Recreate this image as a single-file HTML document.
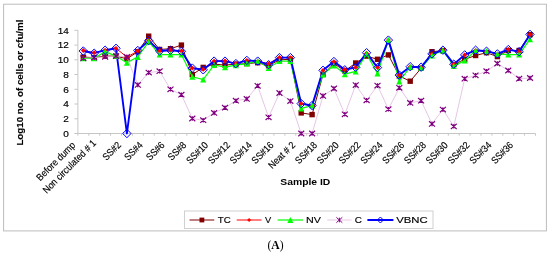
<!DOCTYPE html>
<html><head><meta charset="utf-8"><title>Chart A</title>
<style>html,body{margin:0;padding:0;background:#fff}body{width:550px;height:254px;overflow:hidden}svg{display:block}text{font-family:"Liberation Sans",Arial,sans-serif;fill:#000}.b{font-weight:bold}.ser{font-family:"Liberation Serif","Times New Roman",serif}</style></head><body>
<svg width="550" height="254" viewBox="0 0 550 254">
<rect x="0" y="0" width="550" height="254" fill="#fff"/>
<rect x="3.6" y="4.2" width="542.8" height="226.7" fill="#fff" stroke="#bcbcbc" stroke-width="1"/>
<g stroke="#c6c6c6" stroke-width="1" fill="none">
<line x1="77.9" y1="30.0" x2="77.9" y2="133.5"/>
<line x1="77.9" y1="133.5" x2="535.5" y2="133.5"/>
<line x1="74.4" y1="133.5" x2="77.9" y2="133.5"/>
<line x1="74.4" y1="118.8" x2="77.9" y2="118.8"/>
<line x1="74.4" y1="104.0" x2="77.9" y2="104.0"/>
<line x1="74.4" y1="89.3" x2="77.9" y2="89.3"/>
<line x1="74.4" y1="74.5" x2="77.9" y2="74.5"/>
<line x1="74.4" y1="59.8" x2="77.9" y2="59.8"/>
<line x1="74.4" y1="45.1" x2="77.9" y2="45.1"/>
<line x1="74.4" y1="30.3" x2="77.9" y2="30.3"/>
<line x1="77.9" y1="133.5" x2="77.9" y2="135.7"/>
<line x1="88.8" y1="133.5" x2="88.8" y2="135.7"/>
<line x1="99.7" y1="133.5" x2="99.7" y2="135.7"/>
<line x1="110.6" y1="133.5" x2="110.6" y2="135.7"/>
<line x1="121.5" y1="133.5" x2="121.5" y2="135.7"/>
<line x1="132.4" y1="133.5" x2="132.4" y2="135.7"/>
<line x1="143.3" y1="133.5" x2="143.3" y2="135.7"/>
<line x1="154.2" y1="133.5" x2="154.2" y2="135.7"/>
<line x1="165.1" y1="133.5" x2="165.1" y2="135.7"/>
<line x1="176.0" y1="133.5" x2="176.0" y2="135.7"/>
<line x1="186.8" y1="133.5" x2="186.8" y2="135.7"/>
<line x1="197.7" y1="133.5" x2="197.7" y2="135.7"/>
<line x1="208.6" y1="133.5" x2="208.6" y2="135.7"/>
<line x1="219.5" y1="133.5" x2="219.5" y2="135.7"/>
<line x1="230.4" y1="133.5" x2="230.4" y2="135.7"/>
<line x1="241.3" y1="133.5" x2="241.3" y2="135.7"/>
<line x1="252.2" y1="133.5" x2="252.2" y2="135.7"/>
<line x1="263.1" y1="133.5" x2="263.1" y2="135.7"/>
<line x1="274.0" y1="133.5" x2="274.0" y2="135.7"/>
<line x1="284.9" y1="133.5" x2="284.9" y2="135.7"/>
<line x1="295.8" y1="133.5" x2="295.8" y2="135.7"/>
<line x1="306.7" y1="133.5" x2="306.7" y2="135.7"/>
<line x1="317.6" y1="133.5" x2="317.6" y2="135.7"/>
<line x1="328.5" y1="133.5" x2="328.5" y2="135.7"/>
<line x1="339.4" y1="133.5" x2="339.4" y2="135.7"/>
<line x1="350.3" y1="133.5" x2="350.3" y2="135.7"/>
<line x1="361.2" y1="133.5" x2="361.2" y2="135.7"/>
<line x1="372.1" y1="133.5" x2="372.1" y2="135.7"/>
<line x1="383.0" y1="133.5" x2="383.0" y2="135.7"/>
<line x1="393.9" y1="133.5" x2="393.9" y2="135.7"/>
<line x1="404.8" y1="133.5" x2="404.8" y2="135.7"/>
<line x1="415.6" y1="133.5" x2="415.6" y2="135.7"/>
<line x1="426.5" y1="133.5" x2="426.5" y2="135.7"/>
<line x1="437.4" y1="133.5" x2="437.4" y2="135.7"/>
<line x1="448.3" y1="133.5" x2="448.3" y2="135.7"/>
<line x1="459.2" y1="133.5" x2="459.2" y2="135.7"/>
<line x1="470.1" y1="133.5" x2="470.1" y2="135.7"/>
<line x1="481.0" y1="133.5" x2="481.0" y2="135.7"/>
<line x1="491.9" y1="133.5" x2="491.9" y2="135.7"/>
<line x1="502.8" y1="133.5" x2="502.8" y2="135.7"/>
<line x1="513.7" y1="133.5" x2="513.7" y2="135.7"/>
<line x1="524.6" y1="133.5" x2="524.6" y2="135.7"/>
<line x1="535.5" y1="133.5" x2="535.5" y2="135.7"/>
</g>
<text x="68.9" y="136.8" font-size="9.8" text-anchor="end" textLength="5.6" lengthAdjust="spacingAndGlyphs" stroke="#000" stroke-width="0.18">0</text>
<text x="68.9" y="122.1" font-size="9.8" text-anchor="end" textLength="5.6" lengthAdjust="spacingAndGlyphs" stroke="#000" stroke-width="0.18">2</text>
<text x="68.9" y="107.3" font-size="9.8" text-anchor="end" textLength="5.6" lengthAdjust="spacingAndGlyphs" stroke="#000" stroke-width="0.18">4</text>
<text x="68.9" y="92.6" font-size="9.8" text-anchor="end" textLength="5.6" lengthAdjust="spacingAndGlyphs" stroke="#000" stroke-width="0.18">6</text>
<text x="68.9" y="77.8" font-size="9.8" text-anchor="end" textLength="5.6" lengthAdjust="spacingAndGlyphs" stroke="#000" stroke-width="0.18">8</text>
<text x="68.9" y="63.1" font-size="9.8" text-anchor="end" textLength="11.1" lengthAdjust="spacingAndGlyphs" stroke="#000" stroke-width="0.18">10</text>
<text x="68.9" y="48.4" font-size="9.8" text-anchor="end" textLength="11.1" lengthAdjust="spacingAndGlyphs" stroke="#000" stroke-width="0.18">12</text>
<text x="68.9" y="33.6" font-size="9.8" text-anchor="end" textLength="11.1" lengthAdjust="spacingAndGlyphs" stroke="#000" stroke-width="0.18">14</text>
<text class="b" font-size="9.8" stroke="#000" stroke-width="0.15" transform="translate(22.6,145.6) rotate(-90)" textLength="126" lengthAdjust="spacingAndGlyphs">Log10 no. of cells or cfu/ml</text>
<text font-size="9.9" text-anchor="end" textLength="50.4" lengthAdjust="spacingAndGlyphs" stroke="#000" stroke-width="0.15" transform="translate(76.0,145.8) rotate(-45)">Before dump</text>
<text font-size="9.9" text-anchor="end" textLength="70.9" lengthAdjust="spacingAndGlyphs" stroke="#000" stroke-width="0.15" transform="translate(96.8,143.8) rotate(-45)">Non circulated # 1</text>
<text font-size="9.9" text-anchor="end" textLength="21.5" lengthAdjust="spacingAndGlyphs" stroke="#000" stroke-width="0.15" transform="translate(121.6,145.8) rotate(-45)">SS#2</text>
<text font-size="9.9" text-anchor="end" textLength="21.5" lengthAdjust="spacingAndGlyphs" stroke="#000" stroke-width="0.15" transform="translate(143.4,145.8) rotate(-45)">SS#4</text>
<text font-size="9.9" text-anchor="end" textLength="21.5" lengthAdjust="spacingAndGlyphs" stroke="#000" stroke-width="0.15" transform="translate(165.2,145.8) rotate(-45)">SS#6</text>
<text font-size="9.9" text-anchor="end" textLength="21.5" lengthAdjust="spacingAndGlyphs" stroke="#000" stroke-width="0.15" transform="translate(187.0,145.8) rotate(-45)">SS#8</text>
<text font-size="9.9" text-anchor="end" textLength="26.4" lengthAdjust="spacingAndGlyphs" stroke="#000" stroke-width="0.15" transform="translate(208.8,145.8) rotate(-45)">SS#10</text>
<text font-size="9.9" text-anchor="end" textLength="26.4" lengthAdjust="spacingAndGlyphs" stroke="#000" stroke-width="0.15" transform="translate(230.6,145.8) rotate(-45)">SS#12</text>
<text font-size="9.9" text-anchor="end" textLength="26.4" lengthAdjust="spacingAndGlyphs" stroke="#000" stroke-width="0.15" transform="translate(252.4,145.8) rotate(-45)">SS#14</text>
<text font-size="9.9" text-anchor="end" textLength="26.4" lengthAdjust="spacingAndGlyphs" stroke="#000" stroke-width="0.15" transform="translate(274.2,145.8) rotate(-45)">SS#16</text>
<text font-size="9.9" text-anchor="end" textLength="33.3" lengthAdjust="spacingAndGlyphs" stroke="#000" stroke-width="0.15" transform="translate(295.9,145.8) rotate(-45)">Neat # 2</text>
<text font-size="9.9" text-anchor="end" textLength="26.4" lengthAdjust="spacingAndGlyphs" stroke="#000" stroke-width="0.15" transform="translate(317.7,145.8) rotate(-45)">SS#18</text>
<text font-size="9.9" text-anchor="end" textLength="26.4" lengthAdjust="spacingAndGlyphs" stroke="#000" stroke-width="0.15" transform="translate(339.5,145.8) rotate(-45)">SS#20</text>
<text font-size="9.9" text-anchor="end" textLength="26.4" lengthAdjust="spacingAndGlyphs" stroke="#000" stroke-width="0.15" transform="translate(361.3,145.8) rotate(-45)">SS#22</text>
<text font-size="9.9" text-anchor="end" textLength="26.4" lengthAdjust="spacingAndGlyphs" stroke="#000" stroke-width="0.15" transform="translate(383.1,145.8) rotate(-45)">SS#24</text>
<text font-size="9.9" text-anchor="end" textLength="26.4" lengthAdjust="spacingAndGlyphs" stroke="#000" stroke-width="0.15" transform="translate(404.9,145.8) rotate(-45)">SS#26</text>
<text font-size="9.9" text-anchor="end" textLength="26.4" lengthAdjust="spacingAndGlyphs" stroke="#000" stroke-width="0.15" transform="translate(426.7,145.8) rotate(-45)">SS#28</text>
<text font-size="9.9" text-anchor="end" textLength="26.4" lengthAdjust="spacingAndGlyphs" stroke="#000" stroke-width="0.15" transform="translate(448.5,145.8) rotate(-45)">SS#30</text>
<text font-size="9.9" text-anchor="end" textLength="26.4" lengthAdjust="spacingAndGlyphs" stroke="#000" stroke-width="0.15" transform="translate(470.3,145.8) rotate(-45)">SS#32</text>
<text font-size="9.9" text-anchor="end" textLength="26.4" lengthAdjust="spacingAndGlyphs" stroke="#000" stroke-width="0.15" transform="translate(492.1,145.8) rotate(-45)">SS#34</text>
<text font-size="9.9" text-anchor="end" textLength="26.4" lengthAdjust="spacingAndGlyphs" stroke="#000" stroke-width="0.15" transform="translate(513.8,145.8) rotate(-45)">SS#36</text>
<text class="b" font-size="9.5" x="280.3" y="184.8" textLength="50" lengthAdjust="spacingAndGlyphs">Sample ID</text>
<polyline points="83.3,57.1 94.2,57.6 105.1,56.1 116.0,56.1 126.9,58.8 137.8,51.7 148.7,36.2 159.6,49.5 170.5,48.7 181.4,45.1 192.3,74.6 203.2,67.4 214.1,64.2 225.0,65.0 235.9,64.2 246.8,63.6 257.7,62.7 268.6,65.7 279.5,59.8 290.4,59.3 301.2,112.9 312.1,114.6 323.0,74.5 333.9,63.6 344.8,70.9 355.7,63.0 366.6,56.1 377.5,59.3 388.4,54.9 399.3,76.0 410.2,81.2 421.1,68.3 432.0,51.7 442.9,50.6 453.8,64.6 464.7,59.3 475.6,55.5 486.5,52.7 497.4,56.6 508.3,50.5 519.1,50.5 530.0,34.7" fill="none" stroke="#800000" stroke-width="1"/>
<g fill="#800000"><rect x="80.6" y="54.4" width="5.4" height="5.4"/><rect x="91.5" y="54.9" width="5.4" height="5.4"/><rect x="102.4" y="53.4" width="5.4" height="5.4"/><rect x="113.3" y="53.4" width="5.4" height="5.4"/><rect x="124.2" y="56.1" width="5.4" height="5.4"/><rect x="135.1" y="49.0" width="5.4" height="5.4"/><rect x="146.0" y="33.5" width="5.4" height="5.4"/><rect x="156.9" y="46.8" width="5.4" height="5.4"/><rect x="167.8" y="46.0" width="5.4" height="5.4"/><rect x="178.7" y="42.4" width="5.4" height="5.4"/><rect x="189.6" y="71.9" width="5.4" height="5.4"/><rect x="200.5" y="64.7" width="5.4" height="5.4"/><rect x="211.4" y="61.5" width="5.4" height="5.4"/><rect x="222.3" y="62.3" width="5.4" height="5.4"/><rect x="233.2" y="61.5" width="5.4" height="5.4"/><rect x="244.1" y="60.9" width="5.4" height="5.4"/><rect x="255.0" y="60.0" width="5.4" height="5.4"/><rect x="265.9" y="63.0" width="5.4" height="5.4"/><rect x="276.8" y="57.1" width="5.4" height="5.4"/><rect x="287.7" y="56.6" width="5.4" height="5.4"/><rect x="298.5" y="110.2" width="5.4" height="5.4"/><rect x="309.4" y="111.9" width="5.4" height="5.4"/><rect x="320.3" y="71.8" width="5.4" height="5.4"/><rect x="331.2" y="60.9" width="5.4" height="5.4"/><rect x="342.1" y="68.2" width="5.4" height="5.4"/><rect x="353.0" y="60.3" width="5.4" height="5.4"/><rect x="363.9" y="53.4" width="5.4" height="5.4"/><rect x="374.8" y="56.6" width="5.4" height="5.4"/><rect x="385.7" y="52.2" width="5.4" height="5.4"/><rect x="396.6" y="73.3" width="5.4" height="5.4"/><rect x="407.5" y="78.5" width="5.4" height="5.4"/><rect x="418.4" y="65.6" width="5.4" height="5.4"/><rect x="429.3" y="49.0" width="5.4" height="5.4"/><rect x="440.2" y="47.9" width="5.4" height="5.4"/><rect x="451.1" y="61.9" width="5.4" height="5.4"/><rect x="462.0" y="56.6" width="5.4" height="5.4"/><rect x="472.9" y="52.8" width="5.4" height="5.4"/><rect x="483.8" y="50.0" width="5.4" height="5.4"/><rect x="494.7" y="53.9" width="5.4" height="5.4"/><rect x="505.6" y="47.8" width="5.4" height="5.4"/><rect x="516.4" y="47.8" width="5.4" height="5.4"/><rect x="527.3" y="32.0" width="5.4" height="5.4"/></g>
<polyline points="83.3,50.5 94.2,52.7 105.1,50.2 116.0,48.3 126.9,57.1 137.8,51.0 148.7,40.6 159.6,51.0 170.5,50.2 181.4,51.0 192.3,68.1 203.2,69.4 214.1,61.1 225.0,60.8 235.9,63.5 246.8,60.4 257.7,61.3 268.6,63.6 279.5,57.4 290.4,57.6 301.2,103.6 312.1,106.2 323.0,70.5 333.9,61.7 344.8,69.4 355.7,67.4 366.6,53.2 377.5,67.6 388.4,40.1 399.3,75.1 410.2,66.7 421.1,67.5 432.0,54.3 442.9,50.2 453.8,63.9 464.7,54.9 475.6,50.5 486.5,51.2 497.4,54.3 508.3,49.5 519.1,51.7 530.0,34.7" fill="none" stroke="#ff0000" stroke-width="1"/>
<polyline points="83.3,58.3 94.2,58.3 105.1,51.7 116.0,56.1 126.9,62.7 137.8,56.9 148.7,41.7 159.6,54.6 170.5,54.6 181.4,54.6 192.3,76.8 203.2,79.5 214.1,65.0 225.0,67.2 235.9,65.2 246.8,63.6 257.7,61.1 268.6,67.9 279.5,61.1 290.4,61.1 301.2,108.4 312.1,105.5 323.0,74.5 333.9,65.4 344.8,74.2 355.7,71.4 366.6,53.9 377.5,73.5 388.4,40.1 399.3,81.5 410.2,66.9 421.1,67.9 432.0,55.4 442.9,50.5 453.8,66.1 464.7,60.4 475.6,50.5 486.5,51.2 497.4,53.9 508.3,54.6 519.1,54.6 530.0,39.2" fill="none" stroke="#00ff00" stroke-width="1.2"/>
<polyline points="83.3,58.3 94.2,57.6 105.1,56.9 116.0,56.1 126.9,56.9 137.8,84.9 148.7,72.6 159.6,71.2 170.5,89.3 181.4,94.7 192.3,118.5 203.2,120.2 214.1,112.9 225.0,107.7 235.9,100.7 246.8,98.9 257.7,85.8 268.6,117.3 279.5,93.0 290.4,101.1 301.2,133.5 312.1,133.5 323.0,95.9 333.9,88.5 344.8,114.3 355.7,85.1 366.6,100.3 377.5,85.6 388.4,109.2 399.3,87.8 410.2,102.9 421.1,100.7 432.0,123.9 442.9,109.6 453.8,126.4 464.7,78.7 475.6,75.3 486.5,71.2 497.4,63.5 508.3,70.5 519.1,78.7 530.0,78.0" fill="none" stroke="#e0b8e0" stroke-width="0.8"/>
<polyline points="83.3,51.0 94.2,53.2 105.1,50.2 116.0,48.3 126.9,133.5 137.8,50.5 148.7,40.6 159.6,51.0 170.5,50.2 181.4,51.3 192.3,68.1 203.2,69.8 214.1,61.1 225.0,61.1 235.9,63.6 246.8,60.4 257.7,61.1 268.6,64.7 279.5,57.6 290.4,57.6 301.2,103.6 312.1,105.5 323.0,70.3 333.9,61.5 344.8,69.8 355.7,67.4 366.6,52.7 377.5,67.6 388.4,40.1 399.3,75.1 410.2,66.7 421.1,67.2 432.0,53.9 442.9,50.2 453.8,64.2 464.7,54.9 475.6,50.2 486.5,51.2 497.4,53.9 508.3,49.5 519.1,51.7 530.0,34.4" fill="none" stroke="#0000ff" stroke-width="1.9" stroke-linejoin="round"/>
<g fill="#ff0000"><path d="M83.3 48.1L85.7 50.5L83.3 52.9L80.9 50.5Z"/><path d="M94.2 50.3L96.6 52.7L94.2 55.1L91.8 52.7Z"/><path d="M105.1 47.8L107.5 50.2L105.1 52.6L102.7 50.2Z"/><path d="M116.0 45.9L118.4 48.3L116.0 50.7L113.6 48.3Z"/><path d="M126.9 54.7L129.3 57.1L126.9 59.5L124.5 57.1Z"/><path d="M137.8 48.6L140.2 51.0L137.8 53.4L135.4 51.0Z"/><path d="M148.7 38.2L151.1 40.6L148.7 43.0L146.3 40.6Z"/><path d="M159.6 48.6L162.0 51.0L159.6 53.4L157.2 51.0Z"/><path d="M170.5 47.8L172.9 50.2L170.5 52.6L168.1 50.2Z"/><path d="M181.4 48.6L183.8 51.0L181.4 53.4L179.0 51.0Z"/><path d="M192.3 65.7L194.7 68.1L192.3 70.5L189.9 68.1Z"/><path d="M203.2 67.0L205.6 69.4L203.2 71.8L200.8 69.4Z"/><path d="M214.1 58.7L216.5 61.1L214.1 63.5L211.7 61.1Z"/><path d="M225.0 58.4L227.4 60.8L225.0 63.2L222.6 60.8Z"/><path d="M235.9 61.1L238.3 63.5L235.9 65.9L233.5 63.5Z"/><path d="M246.8 58.0L249.2 60.4L246.8 62.8L244.4 60.4Z"/><path d="M257.7 58.9L260.1 61.3L257.7 63.7L255.3 61.3Z"/><path d="M268.6 61.2L271.0 63.6L268.6 66.0L266.2 63.6Z"/><path d="M279.5 55.0L281.9 57.4L279.5 59.8L277.1 57.4Z"/><path d="M290.4 55.2L292.8 57.6L290.4 60.0L288.0 57.6Z"/><path d="M301.2 101.2L303.6 103.6L301.2 106.0L298.8 103.6Z"/><path d="M312.1 103.8L314.5 106.2L312.1 108.6L309.7 106.2Z"/><path d="M323.0 68.1L325.4 70.5L323.0 72.9L320.6 70.5Z"/><path d="M333.9 59.3L336.3 61.7L333.9 64.1L331.5 61.7Z"/><path d="M344.8 67.0L347.2 69.4L344.8 71.8L342.4 69.4Z"/><path d="M355.7 65.0L358.1 67.4L355.7 69.8L353.3 67.4Z"/><path d="M366.6 50.8L369.0 53.2L366.6 55.6L364.2 53.2Z"/><path d="M377.5 65.2L379.9 67.6L377.5 70.0L375.1 67.6Z"/><path d="M388.4 37.7L390.8 40.1L388.4 42.5L386.0 40.1Z"/><path d="M399.3 72.7L401.7 75.1L399.3 77.5L396.9 75.1Z"/><path d="M410.2 64.3L412.6 66.7L410.2 69.1L407.8 66.7Z"/><path d="M421.1 65.1L423.5 67.5L421.1 69.9L418.7 67.5Z"/><path d="M432.0 51.9L434.4 54.3L432.0 56.7L429.6 54.3Z"/><path d="M442.9 47.8L445.3 50.2L442.9 52.6L440.5 50.2Z"/><path d="M453.8 61.5L456.2 63.9L453.8 66.3L451.4 63.9Z"/><path d="M464.7 52.5L467.1 54.9L464.7 57.3L462.3 54.9Z"/><path d="M475.6 48.1L478.0 50.5L475.6 52.9L473.2 50.5Z"/><path d="M486.5 48.8L488.9 51.2L486.5 53.6L484.1 51.2Z"/><path d="M497.4 51.9L499.8 54.3L497.4 56.7L495.0 54.3Z"/><path d="M508.3 47.1L510.7 49.5L508.3 51.9L505.9 49.5Z"/><path d="M519.1 49.3L521.5 51.7L519.1 54.1L516.7 51.7Z"/><path d="M530.0 32.3L532.4 34.7L530.0 37.1L527.6 34.7Z"/></g>
<g fill="#00ff00"><path d="M83.3 55.3L86.3 61.3L80.3 61.3Z"/><path d="M94.2 55.3L97.2 61.3L91.2 61.3Z"/><path d="M105.1 48.7L108.1 54.7L102.1 54.7Z"/><path d="M116.0 53.1L119.0 59.1L113.0 59.1Z"/><path d="M126.9 59.7L129.9 65.7L123.9 65.7Z"/><path d="M137.8 53.9L140.8 59.9L134.8 59.9Z"/><path d="M148.7 38.7L151.7 44.7L145.7 44.7Z"/><path d="M159.6 51.6L162.6 57.6L156.6 57.6Z"/><path d="M170.5 51.6L173.5 57.6L167.5 57.6Z"/><path d="M181.4 51.6L184.4 57.6L178.4 57.6Z"/><path d="M192.3 73.8L195.3 79.8L189.3 79.8Z"/><path d="M203.2 76.5L206.2 82.5L200.2 82.5Z"/><path d="M214.1 62.0L217.1 68.0L211.1 68.0Z"/><path d="M225.0 64.2L228.0 70.2L222.0 70.2Z"/><path d="M235.9 62.2L238.9 68.2L232.9 68.2Z"/><path d="M246.8 60.6L249.8 66.6L243.8 66.6Z"/><path d="M257.7 58.1L260.7 64.1L254.7 64.1Z"/><path d="M268.6 64.9L271.6 70.9L265.6 70.9Z"/><path d="M279.5 58.1L282.5 64.1L276.5 64.1Z"/><path d="M290.4 58.1L293.4 64.1L287.4 64.1Z"/><path d="M301.2 105.4L304.2 111.4L298.2 111.4Z"/><path d="M312.1 102.5L315.1 108.5L309.1 108.5Z"/><path d="M323.0 71.5L326.0 77.5L320.0 77.5Z"/><path d="M333.9 62.4L336.9 68.4L330.9 68.4Z"/><path d="M344.8 71.2L347.8 77.2L341.8 77.2Z"/><path d="M355.7 68.4L358.7 74.4L352.7 74.4Z"/><path d="M366.6 50.9L369.6 56.9L363.6 56.9Z"/><path d="M377.5 70.5L380.5 76.5L374.5 76.5Z"/><path d="M388.4 37.1L391.4 43.1L385.4 43.1Z"/><path d="M399.3 78.5L402.3 84.5L396.3 84.5Z"/><path d="M410.2 63.9L413.2 69.9L407.2 69.9Z"/><path d="M421.1 64.9L424.1 70.9L418.1 70.9Z"/><path d="M432.0 52.4L435.0 58.4L429.0 58.4Z"/><path d="M442.9 47.5L445.9 53.5L439.9 53.5Z"/><path d="M453.8 63.1L456.8 69.1L450.8 69.1Z"/><path d="M464.7 57.4L467.7 63.4L461.7 63.4Z"/><path d="M475.6 47.5L478.6 53.5L472.6 53.5Z"/><path d="M486.5 48.2L489.5 54.2L483.5 54.2Z"/><path d="M497.4 50.9L500.4 56.9L494.4 56.9Z"/><path d="M508.3 51.6L511.3 57.6L505.3 57.6Z"/><path d="M519.1 51.6L522.1 57.6L516.1 57.6Z"/><path d="M530.0 36.2L533.0 42.2L527.0 42.2Z"/></g>
<g fill="none" stroke="#800080" stroke-width="1.2"><path d="M80.4 55.6L86.3 61.0M80.4 61.0L86.3 55.6M83.3 56.0L83.3 60.6"/><path d="M91.3 54.9L97.2 60.3M91.3 60.3L97.2 54.9M94.2 55.3L94.2 59.9"/><path d="M102.2 54.2L108.1 59.6M102.2 59.6L108.1 54.2M105.1 54.6L105.1 59.1"/><path d="M113.1 53.4L119.0 58.8M113.1 58.8L119.0 53.4M116.0 53.8L116.0 58.4"/><path d="M124.0 54.2L129.9 59.6M124.0 59.6L129.9 54.2M126.9 54.6L126.9 59.1"/><path d="M134.9 82.2L140.8 87.6M134.9 87.6L140.8 82.2M137.8 82.6L137.8 87.2"/><path d="M145.7 69.9L151.7 75.3M145.7 75.3L151.7 69.9M148.7 70.3L148.7 74.9"/><path d="M156.6 68.5L162.6 73.9M156.6 73.9L162.6 68.5M159.6 68.9L159.6 73.5"/><path d="M167.5 86.6L173.5 92.0M167.5 92.0L173.5 86.6M170.5 87.0L170.5 91.6"/><path d="M178.4 92.0L184.4 97.4M178.4 97.4L184.4 92.0M181.4 92.4L181.4 97.0"/><path d="M189.3 115.8L195.3 121.2M189.3 121.2L195.3 115.8M192.3 116.2L192.3 120.8"/><path d="M200.2 117.5L206.2 122.9M200.2 122.9L206.2 117.5M203.2 117.9L203.2 122.5"/><path d="M211.1 110.2L217.1 115.6M211.1 115.6L217.1 110.2M214.1 110.6L214.1 115.2"/><path d="M222.0 105.0L228.0 110.4M222.0 110.4L228.0 105.0M225.0 105.4L225.0 110.0"/><path d="M232.9 98.0L238.8 103.4M232.9 103.4L238.8 98.0M235.9 98.4L235.9 103.0"/><path d="M243.8 96.2L249.7 101.6M243.8 101.6L249.7 96.2M246.8 96.6L246.8 101.2"/><path d="M254.7 83.1L260.6 88.5M254.7 88.5L260.6 83.1M257.7 83.5L257.7 88.1"/><path d="M265.6 114.6L271.5 120.0M265.6 120.0L271.5 114.6M268.6 115.0L268.6 119.6"/><path d="M276.5 90.3L282.4 95.7M276.5 95.7L282.4 90.3M279.5 90.7L279.5 95.3"/><path d="M287.4 98.4L293.3 103.8M287.4 103.8L293.3 98.4M290.4 98.8L290.4 103.4"/><path d="M298.3 130.8L304.2 136.2M298.3 136.2L304.2 130.8M301.2 131.2L301.2 135.8"/><path d="M309.2 130.8L315.1 136.2M309.2 136.2L315.1 130.8M312.1 131.2L312.1 135.8"/><path d="M320.1 93.2L326.0 98.6M320.1 98.6L326.0 93.2M323.0 93.6L323.0 98.2"/><path d="M331.0 85.8L336.9 91.2M331.0 91.2L336.9 85.8M333.9 86.2L333.9 90.8"/><path d="M341.9 111.6L347.8 117.0M341.9 117.0L347.8 111.6M344.8 112.0L344.8 116.6"/><path d="M352.8 82.4L358.7 87.8M352.8 87.8L358.7 82.4M355.7 82.8L355.7 87.4"/><path d="M363.6 97.6L369.6 103.0M363.6 103.0L369.6 97.6M366.6 98.0L366.6 102.6"/><path d="M374.5 82.9L380.5 88.3M374.5 88.3L380.5 82.9M377.5 83.3L377.5 87.9"/><path d="M385.4 106.5L391.4 111.9M385.4 111.9L391.4 106.5M388.4 106.9L388.4 111.5"/><path d="M396.3 85.1L402.3 90.5M396.3 90.5L402.3 85.1M399.3 85.5L399.3 90.1"/><path d="M407.2 100.2L413.2 105.6M407.2 105.6L413.2 100.2M410.2 100.6L410.2 105.2"/><path d="M418.1 98.0L424.1 103.4M418.1 103.4L424.1 98.0M421.1 98.4L421.1 103.0"/><path d="M429.0 121.2L435.0 126.6M429.0 126.6L435.0 121.2M432.0 121.6L432.0 126.2"/><path d="M439.9 106.9L445.9 112.3M439.9 112.3L445.9 106.9M442.9 107.3L442.9 111.9"/><path d="M450.8 123.7L456.7 129.1M450.8 129.1L456.7 123.7M453.8 124.1L453.8 128.6"/><path d="M461.7 76.0L467.6 81.4M461.7 81.4L467.6 76.0M464.7 76.4L464.7 81.0"/><path d="M472.6 72.6L478.5 78.0M472.6 78.0L478.5 72.6M475.6 73.0L475.6 77.6"/><path d="M483.5 68.5L489.4 73.9M483.5 73.9L489.4 68.5M486.5 68.9L486.5 73.5"/><path d="M494.4 60.8L500.3 66.2M494.4 66.2L500.3 60.8M497.4 61.2L497.4 65.8"/><path d="M505.3 67.8L511.2 73.2M505.3 73.2L511.2 67.8M508.3 68.2L508.3 72.8"/><path d="M516.2 76.0L522.1 81.4M516.2 81.4L522.1 76.0M519.1 76.4L519.1 81.0"/><path d="M527.1 75.3L533.0 80.7M527.1 80.7L533.0 75.3M530.0 75.7L530.0 80.3"/></g>
<g fill="none" stroke="#0000ff" stroke-width="1"><path d="M83.3 46.8L87.5 51.0L83.3 55.2L79.1 51.0Z"/><path d="M94.2 49.0L98.4 53.2L94.2 57.4L90.0 53.2Z"/><path d="M105.1 46.0L109.3 50.2L105.1 54.4L100.9 50.2Z"/><path d="M116.0 44.1L120.2 48.3L116.0 52.5L111.8 48.3Z"/><path d="M126.9 129.3L131.1 133.5L126.9 137.7L122.7 133.5Z"/><path d="M137.8 46.3L142.0 50.5L137.8 54.7L133.6 50.5Z"/><path d="M148.7 36.4L152.9 40.6L148.7 44.8L144.5 40.6Z"/><path d="M159.6 46.8L163.8 51.0L159.6 55.2L155.4 51.0Z"/><path d="M170.5 46.0L174.7 50.2L170.5 54.4L166.3 50.2Z"/><path d="M181.4 47.1L185.6 51.3L181.4 55.5L177.2 51.3Z"/><path d="M192.3 63.9L196.5 68.1L192.3 72.3L188.1 68.1Z"/><path d="M203.2 65.6L207.4 69.8L203.2 74.0L199.0 69.8Z"/><path d="M214.1 56.9L218.3 61.1L214.1 65.3L209.9 61.1Z"/><path d="M225.0 56.9L229.2 61.1L225.0 65.3L220.8 61.1Z"/><path d="M235.9 59.4L240.1 63.6L235.9 67.8L231.7 63.6Z"/><path d="M246.8 56.2L251.0 60.4L246.8 64.6L242.6 60.4Z"/><path d="M257.7 56.9L261.9 61.1L257.7 65.3L253.5 61.1Z"/><path d="M268.6 60.5L272.8 64.7L268.6 68.9L264.4 64.7Z"/><path d="M279.5 53.4L283.7 57.6L279.5 61.8L275.3 57.6Z"/><path d="M290.4 53.4L294.6 57.6L290.4 61.8L286.2 57.6Z"/><path d="M301.2 99.4L305.4 103.6L301.2 107.8L297.0 103.6Z"/><path d="M312.1 101.3L316.3 105.5L312.1 109.7L307.9 105.5Z"/><path d="M323.0 66.1L327.2 70.3L323.0 74.5L318.8 70.3Z"/><path d="M333.9 57.3L338.1 61.5L333.9 65.7L329.7 61.5Z"/><path d="M344.8 65.6L349.0 69.8L344.8 74.0L340.6 69.8Z"/><path d="M355.7 63.2L359.9 67.4L355.7 71.6L351.5 67.4Z"/><path d="M366.6 48.5L370.8 52.7L366.6 56.9L362.4 52.7Z"/><path d="M377.5 63.4L381.7 67.6L377.5 71.8L373.3 67.6Z"/><path d="M388.4 35.9L392.6 40.1L388.4 44.3L384.2 40.1Z"/><path d="M399.3 70.9L403.5 75.1L399.3 79.3L395.1 75.1Z"/><path d="M410.2 62.5L414.4 66.7L410.2 70.9L406.0 66.7Z"/><path d="M421.1 63.0L425.3 67.2L421.1 71.4L416.9 67.2Z"/><path d="M432.0 49.7L436.2 53.9L432.0 58.1L427.8 53.9Z"/><path d="M442.9 46.0L447.1 50.2L442.9 54.4L438.7 50.2Z"/><path d="M453.8 60.0L458.0 64.2L453.8 68.4L449.6 64.2Z"/><path d="M464.7 50.7L468.9 54.9L464.7 59.1L460.5 54.9Z"/><path d="M475.6 46.0L479.8 50.2L475.6 54.4L471.4 50.2Z"/><path d="M486.5 47.0L490.7 51.2L486.5 55.4L482.3 51.2Z"/><path d="M497.4 49.7L501.6 53.9L497.4 58.1L493.2 53.9Z"/><path d="M508.3 45.3L512.5 49.5L508.3 53.7L504.1 49.5Z"/><path d="M519.1 47.5L523.3 51.7L519.1 55.9L514.9 51.7Z"/><path d="M530.0 30.2L534.2 34.4L530.0 38.6L525.8 34.4Z"/></g>
<rect x="184.5" y="211" width="248.5" height="17.5" fill="#fff" stroke="#d0d0d0" stroke-width="1"/>
<line x1="189.5" y1="220" x2="214.3" y2="220" stroke="#800000" stroke-width="1"/>
<g fill="#800000"><rect x="199.5" y="217.6" width="4.8" height="4.8"/></g>
<text font-size="9.6" x="217.8" y="222.9" stroke="#000" stroke-width="0.15" textLength="13" lengthAdjust="spacingAndGlyphs">TC</text>
<line x1="236.7" y1="220" x2="261.5" y2="220" stroke="#ff0000" stroke-width="1"/>
<g fill="#ff0000"><path d="M249.1 218.0L251.1 220.0L249.1 222.0L247.1 220.0Z"/></g>
<text font-size="9.6" x="265" y="222.9" stroke="#000" stroke-width="0.15" textLength="6.2" lengthAdjust="spacingAndGlyphs">V</text>
<line x1="277.6" y1="220" x2="303" y2="220" stroke="#00ff00" stroke-width="1.2"/>
<g fill="#00ff00"><path d="M290.3 217.0L293.3 223.0L287.3 223.0Z"/></g>
<text font-size="9.6" x="305.9" y="222.9" stroke="#000" stroke-width="0.15" textLength="14.9" lengthAdjust="spacingAndGlyphs">NV</text>
<line x1="327.2" y1="220" x2="351.5" y2="220" stroke="#e0b8e0" stroke-width="0.8"/>
<g fill="none" stroke="#800080"><path d="M336.4 217.3L342.3 222.7M336.4 222.7L342.3 217.3M339.4 217.7L339.4 222.3"/></g>
<text font-size="9.6" x="354.8" y="222.9" stroke="#000" stroke-width="0.15" textLength="7.2" lengthAdjust="spacingAndGlyphs">C</text>
<line x1="367.4" y1="220" x2="393.4" y2="220" stroke="#0000ff" stroke-width="2"/>
<g fill="none" stroke="#0000ff"><path d="M380.4 217.0L383.4 220.0L380.4 223.0L377.4 220.0Z"/></g>
<text font-size="9.6" x="396.2" y="222.9" stroke="#000" stroke-width="0.15" textLength="31.5" lengthAdjust="spacingAndGlyphs">VBNC</text>
<text class="ser" font-size="11.6" x="267.4" y="248.6"><tspan>(</tspan><tspan font-weight="bold">A</tspan><tspan>)</tspan></text>
</svg></body></html>
